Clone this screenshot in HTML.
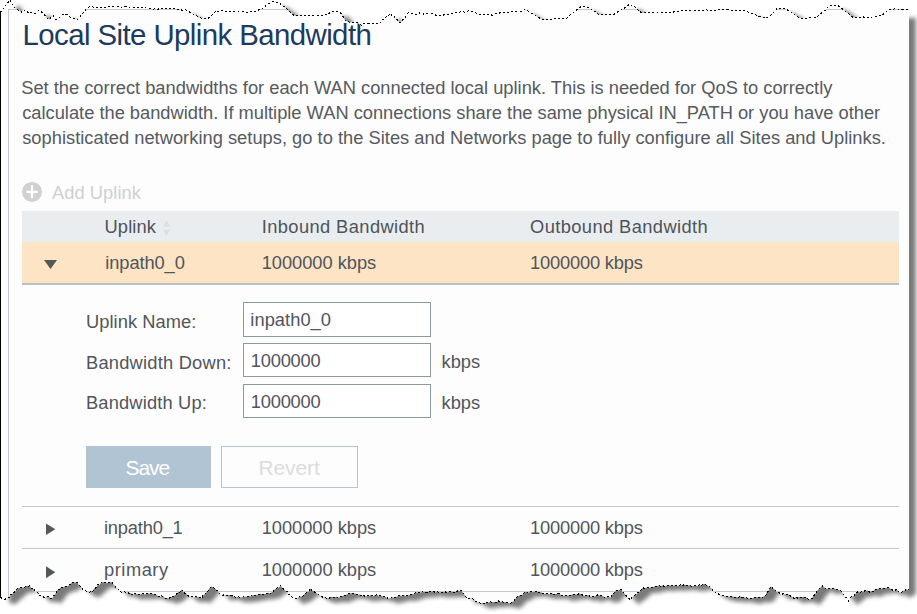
<!DOCTYPE html>
<html><head><meta charset="utf-8"><style>
html,body{margin:0;padding:0}
body{width:917px;height:614px;overflow:hidden;background:#fff;position:relative;font-family:"Liberation Sans",sans-serif}
.t{position:absolute;white-space:nowrap}
#page{position:absolute;left:0;top:0;width:917px;height:614px;background:#fdfdfd;clip-path:polygon(0px 12.7px,1.2px 11.4px,2.5px 9.6px,3.8px 8.2px,5px 6.7px,6.2px 4.4px,7.5px 2.7px,8.8px 2px,10px -0.3px,11.1px 1.6px,12.2px 4.3px,13.4px 5.6px,14.5px 7.9px,16.2px 8.6px,17.9px 10px,19.6px 10.6px,21.3px 12.4px,23.5px 9.8px,26.1px 10.9px,27.9px 12.5px,29.6px 11.5px,31.3px 12.6px,33.1px 12.5px,35.3px 13.6px,37.5px 11.1px,41px 10.7px,42.4px 13.1px,43.9px 14.1px,45.3px 15.8px,47px 18px,49.7px 19.5px,51.4px 17.1px,53.6px 16px,55.8px 19.6px,58px 19.1px,59.3px 18px,60.6px 16.2px,63.6px 13.9px,65.4px 14px,67.6px 15.1px,69.7px 17px,71.9px 17.4px,73.8px 18.4px,75.7px 18.7px,77.6px 19.6px,79.3px 17.5px,81.1px 15.5px,82.3px 14.1px,83.4px 12.3px,84.6px 11px,86.3px 8.9px,88px 7.9px,89.8px 6.5px,93.3px 7.1px,95.5px 7.2px,97.7px 7px,99.9px 7.7px,102.1px 7.6px,104.3px 7.4px,106.4px 6.9px,108.6px 6.9px,110.8px 6.1px,113px 6.7px,115.1px 6.5px,117.2px 6.2px,119.2px 6.1px,121.3px 7.1px,123.4px 7.4px,125.5px 6.4px,127.6px 7.4px,129.7px 7px,131.8px 6.8px,133.8px 7.1px,135.9px 7.7px,138px 7.9px,140.2px 7.1px,142.4px 8px,144.6px 7.4px,146.8px 8.4px,148.9px 8.1px,151.1px 8.9px,153.3px 9.2px,155.5px 8.8px,157.5px 9.4px,159.5px 8.6px,161.5px 8.3px,163.5px 8.9px,165.6px 8.2px,167.6px 8.4px,169.6px 8.7px,171.6px 8.9px,173.6px 8.4px,175.6px 8.3px,177.6px 9.5px,179.6px 9.1px,181.6px 10.1px,183.6px 10.2px,185.6px 9.9px,187.4px 10.9px,189.3px 11.9px,191.2px 13px,193px 13.9px,194.9px 14.9px,196.8px 16px,198.7px 17.5px,200.6px 18px,203.1px 18.2px,205.5px 18.8px,208px 18.5px,209.5px 17.1px,211.1px 16.4px,212.6px 14.3px,214.2px 12.9px,215.7px 10.7px,217.8px 11.2px,220px 11.4px,222.1px 10.7px,224.3px 11.4px,226.4px 11.5px,228.6px 10.8px,230.7px 11.5px,232.9px 11.3px,235px 11.5px,237px 11.4px,239px 12px,241px 12.3px,243px 11.7px,245px 12px,247px 12.5px,249px 12.6px,251px 11.5px,253px 11.5px,255px 11.4px,256.9px 10.5px,258.8px 9.9px,260.7px 9.2px,262.6px 8.6px,264.3px 7.2px,266px 5.2px,267.7px 3.7px,269.8px 3.3px,271.9px 1.6px,274px 1.4px,276px 2.4px,278px 2.7px,280px 3.5px,281.9px 5.7px,283.9px 6.6px,285.8px 8.1px,287.7px 9.9px,289.3px 11.6px,290.9px 12.3px,292.4px 13.9px,294px 15.3px,296.1px 15.9px,298.1px 15.4px,300.2px 15.9px,302.3px 15.1px,304.3px 15.3px,306.4px 15.7px,308.5px 16px,310.5px 15.4px,312.6px 15.2px,314.7px 15px,316.7px 15.5px,318.8px 15.1px,320.9px 15.9px,322.9px 15.9px,325px 15.1px,327.2px 13.8px,329.4px 13.1px,331.6px 11.5px,333.8px 12px,336px 11.7px,338.2px 11.8px,340.4px 12.3px,342.1px 15.4px,343.1px 16.6px,344.2px 18.5px,345.4px 20.4px,349px 22.1px,351.2px 22.2px,353.3px 22.9px,355.5px 22.1px,357.5px 22.6px,359.4px 24.4px,361.4px 25px,362.7px 24.1px,365.3px 23.4px,368px 23.5px,370.6px 23px,373.2px 23.2px,375.4px 23.8px,377.5px 23.9px,379.7px 23.7px,381px 21.2px,382.6px 19.6px,384.3px 18.4px,385px 17.1px,387.6px 16.9px,388.8px 15.4px,389.9px 12.9px,392.5px 15.9px,394px 16.4px,395.5px 18.9px,397.4px 19.6px,399.4px 22.8px,401.4px 21.9px,402.7px 19.6px,405.3px 17.2px,406.8px 14.2px,408.2px 12.8px,411.5px 13.1px,413.9px 13.8px,416.4px 14.7px,419.7px 12.9px,423.3px 14.1px,425.9px 13px,429.5px 13.6px,431.7px 13.7px,433.8px 14.1px,436px 15.2px,438.2px 15px,440.4px 15.6px,442.6px 15.3px,444.7px 14.6px,446.7px 14.5px,448.8px 14.4px,450.9px 13.1px,452.9px 13.4px,455px 13px,457.1px 12.7px,459.3px 12.5px,461.4px 11.4px,463.6px 12px,465.7px 12.1px,467.9px 10.9px,470px 11px,472px 11.7px,474px 12.6px,476px 13.1px,478px 13.8px,480px 14.8px,482px 14px,484px 14.2px,486px 14.4px,488px 14.4px,490px 14.5px,492.1px 15.2px,494.2px 14.6px,496.4px 13.3px,498.5px 13.3px,500.6px 12.7px,502.7px 12.3px,504.8px 12.2px,506.8px 12.5px,508.9px 12.4px,510.9px 12px,513px 11.7px,515px 11.8px,517.1px 11.1px,519.1px 11.3px,521.2px 11.1px,523.2px 10.3px,525.3px 9.5px,527.2px 10.6px,529px 11.7px,530.9px 13px,532.8px 14.1px,534.8px 14.9px,536.8px 16.6px,538.8px 17.7px,540.8px 18.7px,542.8px 19.8px,544.8px 19.8px,546.8px 19.8px,548.9px 19.2px,550.9px 19.3px,552.9px 18.8px,555px 18.5px,557.1px 18.8px,559.1px 19px,561.2px 18.3px,563.3px 18.7px,565.4px 18.7px,567.3px 17.7px,569.2px 16.2px,571.1px 13.9px,573px 13px,574.9px 11.6px,576.8px 9.7px,578.6px 8.7px,580.5px 7px,583px 6.9px,585.5px 5.7px,587.4px 7.1px,589.2px 8.1px,591.1px 9.1px,593px 10.3px,594.6px 11.3px,596.1px 12px,597.7px 13.9px,599.3px 14.4px,601.5px 14.6px,603.6px 15.3px,605.8px 14.5px,608px 14.5px,610.5px 14.1px,613.1px 14.7px,615.6px 13.4px,617.5px 12px,619.3px 11.7px,621.1px 9.6px,623px 9.2px,624.6px 7.8px,626.2px 6.7px,627.8px 5.6px,629.4px 3.9px,631.5px 5.4px,633.5px 5.7px,635.6px 7.8px,637.3px 9.2px,638.9px 11.1px,640.6px 12px,642.6px 12.8px,644.6px 13px,646.6px 12px,648.6px 12.3px,650.7px 12.6px,652.7px 12.9px,654.7px 12.2px,656.7px 12.1px,658.7px 12.2px,660.7px 12.6px,662.8px 12.8px,664.8px 12.4px,666.9px 12.4px,668.9px 12.5px,671px 12.4px,673.3px 12.1px,675.6px 11.3px,677.8px 11.4px,680.1px 11.6px,682.4px 10.5px,684.6px 10.9px,686.8px 10.2px,688.9px 10.8px,691.1px 10.9px,693.3px 10.8px,695.5px 10.6px,697.6px 10.6px,699.8px 10.8px,702px 11.1px,704.2px 10.1px,706.4px 9.9px,708.6px 10.6px,710.8px 10.7px,712.9px 10.2px,715.1px 10px,717.3px 10.2px,719.5px 9.5px,721.7px 9.5px,723.7px 9.5px,725.8px 10px,727.8px 9.8px,729.8px 9.8px,731.8px 10.4px,733.9px 10.8px,735.9px 10.1px,737.9px 10.6px,739.9px 10.4px,742px 11px,744px 10.7px,746.1px 11.2px,748.2px 12px,750.4px 12.6px,752.5px 14px,754.6px 14.7px,756.8px 15.3px,758.9px 16.4px,761px 17.2px,763.1px 17.6px,765.1px 16.7px,767.2px 17.5px,769.3px 16.8px,770.7px 15.4px,772.1px 13.8px,773.5px 12.7px,774.9px 11.2px,776.3px 9.4px,777.7px 7.8px,779.8px 8.2px,781.9px 8.5px,783.9px 8.1px,786px 8.7px,787.9px 10.4px,789.8px 11.2px,791.7px 12.3px,793.5px 13.3px,795.2px 15px,797px 16px,798.7px 17.4px,801px 18px,803.4px 18px,805.7px 18.6px,808px 18.3px,810.2px 17.7px,812.5px 17.9px,814.7px 17.7px,817px 17.3px,818.7px 15.1px,820.4px 14.4px,822px 12.4px,823.7px 11.1px,825.4px 10.1px,827.3px 7.7px,829.1px 6.1px,831px 5.4px,833.3px 5px,835.7px 5.2px,838px 5.7px,839.8px 7.2px,841.5px 7.8px,843.2px 9.6px,845px 11.1px,846.7px 12.4px,848.4px 13.3px,850px 15px,851.7px 16.7px,853.4px 17.3px,855.4px 17.5px,857.4px 16.9px,859.4px 17.1px,861.4px 17.6px,863.4px 16.9px,865.4px 17.9px,867.4px 17.9px,869.4px 16.6px,871.4px 17.4px,873.4px 16.4px,875.4px 16.6px,877.4px 16.3px,879.4px 15.4px,881.4px 15.6px,883.1px 14.3px,884.8px 13.2px,886.4px 11.3px,888.1px 10.6px,889.8px 9.6px,891.9px 9.2px,894px 9.1px,896.1px 8.6px,898.2px 9.1px,900.3px 8.9px,902.4px 9.4px,904.5px 9.4px,906.6px 9.3px,909px 9.2px,909px 589px,907.9px 589.8px,906.3px 589.6px,904.7px 590.6px,903px 590.9px,901.4px 592.3px,899.8px 592.7px,898.2px 591.3px,896.6px 589.1px,894.2px 590.9px,891.8px 589.7px,890.2px 588.4px,888.6px 587.7px,886.7px 588.1px,884.8px 588.1px,882.8px 588px,880.9px 588.9px,879px 588.5px,877.1px 589.2px,875.2px 589.3px,873.2px 591.3px,871.3px 590.9px,869.4px 592px,867.5px 590.6px,865.7px 590.7px,863.8px 591.2px,861.9px 591.6px,860.1px 592.5px,858.2px 591.8px,856.6px 592.3px,855px 594.4px,853.4px 596.5px,851.8px 596.5px,850.2px 597.6px,848.6px 600.7px,847.4px 598.4px,846.2px 597.4px,844.9px 596.6px,843.7px 594.8px,842.1px 592.4px,840.5px 590.7px,838.9px 590.1px,836.5px 589.7px,834.1px 588.5px,832px 588.8px,829.8px 588.6px,827.7px 588.7px,825.8px 589px,824px 587.1px,822.1px 585.7px,820.7px 587.4px,819.3px 588.4px,817.9px 590.1px,816.5px 591.4px,815.4px 594px,814.3px 595.4px,813.1px 596.3px,812px 598.5px,810.9px 599.1px,809.1px 599.8px,807.3px 598.1px,805.5px 597.6px,803.7px 596.8px,801.3px 597.5px,798.9px 596.7px,797.3px 598.2px,795.6px 597.1px,794px 598.5px,792.4px 597px,790.8px 596.1px,789.2px 594.9px,787.6px 594.1px,785.2px 594.1px,782.8px 593.9px,781.2px 594.6px,779.6px 593px,778px 592.4px,776.4px 591.4px,775px 590px,773.5px 588.5px,772.1px 587.8px,770.7px 586.4px,769.7px 588.5px,768.7px 590.7px,767.7px 591.7px,766.7px 592.6px,765.7px 595.8px,764px 596.1px,762.4px 597.7px,760.7px 597px,758.7px 597.4px,756.7px 597.3px,754.6px 597.6px,752.6px 598.3px,750.6px 599px,748.6px 598.3px,746.6px 598px,744.6px 597.4px,742.6px 597.6px,740.6px 596.5px,738.6px 597.2px,736.6px 597px,734.6px 597.4px,732.6px 596.3px,730.6px 596.8px,728.6px 596.4px,726.6px 596.5px,724.6px 595.7px,722.6px 595.2px,720.6px 595px,719.1px 594.5px,717.6px 592.7px,716px 592.9px,714.5px 591.6px,713px 591.2px,711.5px 588.2px,709.9px 586.9px,708.3px 586.3px,706.8px 585.3px,704.9px 584.1px,703px 584.2px,701.1px 585.7px,699.3px 584.7px,697.4px 586.3px,695.5px 585.7px,693.6px 585.9px,691.7px 586.5px,689.8px 585.3px,688px 585.8px,686.1px 584.9px,684.2px 584.7px,682.3px 585.7px,680.4px 584.6px,678.6px 585.7px,676.9px 585.9px,675.1px 585px,673.3px 586.1px,671.5px 585.6px,669.8px 585.4px,668px 585.3px,666.2px 586px,664.4px 586.5px,662.6px 585.6px,660.7px 586.1px,658.9px 585.6px,657.1px 586.2px,655.3px 586.1px,653.2px 587.3px,651.1px 587.2px,649px 588px,646.9px 587.4px,644.9px 588.6px,642.8px 587.7px,641.2px 589.6px,639.6px 592px,638.1px 592.6px,636.5px 594.2px,635px 594.9px,633.4px 596.4px,631.8px 597.1px,630.3px 599.7px,628.6px 598.2px,626.9px 596.7px,625.2px 594.5px,624px 592.9px,622.7px 591.7px,621.5px 589.6px,619.6px 589.7px,617.6px 591px,615.7px 590.4px,614.6px 592.2px,613.4px 593.9px,612.3px 594.4px,611.1px 597.2px,610px 597.4px,608.3px 596.7px,606.7px 597.3px,605px 597.4px,603.3px 596.4px,601.7px 595.2px,600px 595.9px,598px 594.6px,596px 595.9px,594px 596.6px,592px 596.7px,590px 596.4px,588.2px 594.9px,586.5px 595.7px,584.7px 595.7px,582.9px 595.4px,581.1px 594.1px,579.4px 593.5px,577.6px 594.6px,575.8px 594.4px,574px 593.9px,572.2px 594.6px,570.4px 595.1px,568.6px 595.5px,566.8px 595.7px,565px 595.4px,563.1px 596.1px,561.2px 595.3px,559.4px 593.8px,557.5px 593.5px,555.5px 594px,553.6px 594.3px,551.6px 593px,549.6px 594.5px,547.7px 593.6px,545.7px 593.5px,544px 594.1px,542.4px 592.8px,540.7px 592.3px,539px 592.7px,537.4px 591.5px,535.7px 591.2px,533.8px 591.7px,531.9px 591.7px,530px 591.8px,528.2px 592.7px,526.3px 591.6px,524.4px 592.9px,522.8px 594.4px,521.2px 595.4px,519.6px 595.6px,518px 596.2px,516.5px 597.2px,515px 599.6px,513.6px 601.2px,512.1px 601.9px,510.6px 603.5px,508.9px 603.3px,507.2px 602.6px,505.6px 602.3px,503.9px 602.3px,502.2px 601.6px,500.5px 602.1px,498.5px 601px,496.5px 602.2px,494.5px 602px,492.5px 602.2px,490.5px 602px,488.5px 602.5px,486.5px 602.3px,484.5px 603.8px,482.5px 602.7px,480.5px 603.2px,479px 602.2px,477.5px 602.3px,476px 601.6px,474.5px 599.5px,473px 599.1px,470.9px 597.7px,468.8px 598.8px,466.7px 598.3px,465.4px 595.7px,464.2px 594.3px,462.9px 592.9px,461.7px 590.3px,459.8px 591.1px,457.9px 590.9px,456px 591.5px,454.2px 592.5px,452.3px 591.5px,450.4px 591.8px,448.5px 591.9px,446.6px 592.8px,444.7px 591.4px,442.9px 592px,441px 592.5px,439.1px 592.5px,437.2px 591.4px,435.3px 592.5px,433.5px 591.3px,431.7px 591.2px,429.9px 591.6px,428.2px 591.6px,426.4px 592.6px,424.6px 592.2px,422.8px 591.4px,421px 592.6px,419.1px 592.9px,417.3px 592.4px,415.5px 592.6px,413.7px 594.6px,411.8px 594px,410px 594.8px,408px 595.7px,406px 596px,404px 595.6px,402px 595.9px,400px 595.4px,398px 596.1px,396px 597px,394px 597.6px,392px 597.3px,390px 598.4px,388.1px 598.3px,386.2px 597.3px,384.4px 596.6px,382.5px 596.6px,380.6px 595.5px,378.8px 596.1px,376.9px 594.8px,375px 595.1px,373px 596.2px,371px 595.1px,369px 595.9px,367px 595.9px,365px 596.4px,363.3px 595.2px,361.7px 596.3px,360px 594.6px,358.3px 594.8px,356.7px 594.3px,355px 593.4px,353.1px 593.8px,351.3px 593.3px,349.5px 593.8px,347.6px 594px,345.7px 595.1px,343.8px 595.5px,341.9px 596.2px,340px 597.3px,338.2px 597.5px,336.5px 596.6px,334.8px 597.4px,333px 597.3px,331.2px 596.9px,329.4px 598.1px,327.5px 598.1px,325.7px 598px,324.2px 596.8px,322.6px 597.2px,321.1px 596.1px,319.5px 595.4px,318px 594.2px,316.5px 592.9px,315px 592.3px,313.6px 591.1px,312.1px 590.5px,310.6px 588.4px,309.1px 590.7px,307.6px 591.9px,306px 593.1px,304.5px 594px,303px 596.1px,301.1px 596.8px,299.3px 596.5px,297.5px 598.1px,295.6px 599px,293.9px 598.6px,292.3px 597.4px,290.6px 595.6px,289.4px 594.7px,288.1px 593.4px,286.9px 591.3px,285.6px 590.9px,283.9px 589.3px,282.3px 587.7px,280.6px 585.7px,278.9px 587.4px,277.2px 587.9px,275.5px 589.1px,274.2px 589.7px,273px 591.4px,271.8px 591.9px,270.5px 593.7px,268.5px 592.8px,266.5px 593.9px,264.5px 594.1px,262.5px 594.7px,260.5px 593.6px,258.5px 594.7px,256.5px 595.3px,254.5px 595.2px,252.5px 595.2px,250.5px 596.4px,248.7px 595.9px,246.9px 596.8px,245.1px 596.7px,243.4px 596.9px,241.6px 597.2px,239.8px 597.4px,238px 596.8px,236px 597.3px,234px 596.8px,232px 595.6px,230px 594.9px,228px 595px,226.1px 595px,224.2px 594.9px,222.3px 595.2px,220.4px 594.9px,219.1px 592.5px,217.9px 590.9px,216.6px 590.1px,214.9px 588.5px,213.3px 587.4px,211.6px 586.4px,210.3px 587.4px,209.1px 588.7px,207.8px 591.1px,206.6px 592.2px,205.3px 594px,204.1px 594.6px,202.8px 595.9px,201.5px 598.4px,199.6px 597px,197.8px 597.3px,195.9px 596.5px,194px 597.5px,191.9px 596.7px,189.9px 596.7px,187.8px 595.7px,186.2px 593.4px,184.7px 593.4px,183.1px 591.5px,181.5px 589.5px,179.9px 592.3px,178.2px 592px,176.6px 593.9px,175px 595.2px,173.5px 596.7px,172px 597.1px,170.5px 597.3px,169px 598.4px,167.2px 598.1px,165.4px 598.4px,163.6px 596.2px,161.8px 595.9px,160px 596.9px,158px 595.9px,156px 594.6px,154px 594px,152px 593.8px,150px 593.7px,148.2px 593.6px,146.3px 593.9px,144.4px 594.5px,142.6px 593.3px,140.6px 594.6px,138.6px 594.2px,136.6px 593.9px,134.6px 593.7px,132.6px 595.4px,130.9px 592.9px,129.3px 593.5px,127.6px 592.5px,125.7px 592.3px,123.8px 591.1px,121.9px 592.2px,120px 591.6px,118.8px 589.8px,117.5px 588.2px,116.2px 587.7px,115px 586.1px,113.5px 584.5px,111.9px 582.2px,110.4px 582.3px,108.5px 582.2px,106.6px 583.2px,104.4px 582.2px,102.2px 582.3px,100.8px 583px,99.4px 584.9px,98px 584.6px,96.6px 587.1px,95.3px 588.2px,94px 588.2px,92.8px 591.2px,91.5px 590.8px,89.7px 592.3px,87.8px 592.2px,85.9px 590.9px,84px 590.3px,82.8px 589.6px,81.5px 587.4px,80.3px 586.2px,79px 585.5px,77.8px 582.9px,76.5px 582.7px,74.3px 582.6px,72.1px 582.6px,70.6px 583.8px,69.2px 584.9px,67.7px 586.3px,65.6px 586.1px,63.5px 587.2px,61.4px 587.3px,60.2px 588.1px,58.9px 589.8px,57.7px 589.8px,56.7px 592px,55.7px 593.1px,54.7px 595.3px,53.7px 595.4px,52.7px 597.9px,50.6px 598.1px,48.5px 596.7px,46.4px 596.7px,44.3px 597.7px,42.1px 595.9px,40px 595.9px,38.8px 594.9px,37.6px 592.1px,35.8px 591.8px,33.9px 589.1px,32.6px 589px,31.3px 588.2px,30px 585.9px,28.2px 586.1px,26.3px 586px,24.5px 587.3px,22.6px 587.7px,20.7px 587.5px,18.8px 588.3px,17.2px 588.7px,15.7px 591px,14.4px 591.8px,13.2px 593.6px,11.9px 593.9px,10.4px 594.7px,8.8px 597.8px,6.9px 598.2px,5px 599.3px,3.3px 598.6px,1.7px 598.1px,0px 597.4px)}
.abs{position:absolute}
svg{position:absolute;left:0;top:0}
</style></head><body>
<svg width="917" height="614" viewBox="0 0 917 614"><defs>
<filter id="bl" x="-5%" y="-5%" width="110%" height="110%"><feGaussianBlur stdDeviation="2.1"/></filter></defs>
<polygon points="9,17.7 10.2,16.4 11.5,14.6 12.8,13.2 14,11.7 15.2,9.4 16.5,7.7 17.8,7 19,4.7 20.1,6.6 21.2,9.3 22.4,10.6 23.5,12.9 25.2,13.6 26.9,15 28.6,15.6 30.3,17.4 32.5,14.8 35.1,15.9 36.9,17.5 38.6,16.5 40.3,17.6 42.1,17.5 44.3,18.6 46.5,16.1 50,15.7 51.4,18.1 52.9,19.1 54.3,20.8 56,23 58.7,24.5 60.4,22.1 62.6,21 64.8,24.6 67,24.1 68.3,23 69.6,21.2 72.6,18.9 74.4,19 76.6,20.1 78.7,22 80.9,22.4 82.8,23.4 84.7,23.7 86.6,24.6 88.3,22.5 90.1,20.5 91.3,19.1 92.4,17.3 93.6,16 95.3,13.9 97,12.9 98.8,11.5 102.3,12.1 104.5,12.2 106.7,12 108.9,12.7 111.1,12.6 113.3,12.4 115.4,11.9 117.6,11.9 119.8,11.1 122,11.7 124.1,11.5 126.2,11.2 128.2,11.1 130.3,12.1 132.4,12.4 134.5,11.4 136.6,12.4 138.7,12 140.8,11.8 142.8,12.1 144.9,12.7 147,12.9 149.2,12.1 151.4,13 153.6,12.4 155.8,13.4 157.9,13.1 160.1,13.9 162.3,14.2 164.5,13.8 166.5,14.4 168.5,13.6 170.5,13.3 172.5,13.9 174.6,13.2 176.6,13.4 178.6,13.7 180.6,13.9 182.6,13.4 184.6,13.3 186.6,14.5 188.6,14.1 190.6,15.1 192.6,15.2 194.6,14.9 196.4,15.9 198.3,16.9 200.2,18 202,18.9 203.9,19.9 205.8,21 207.7,22.5 209.6,23 212.1,23.2 214.5,23.8 217,23.5 218.5,22.1 220.1,21.4 221.6,19.3 223.2,17.9 224.7,15.7 226.8,16.2 229,16.4 231.1,15.7 233.3,16.4 235.4,16.5 237.6,15.8 239.7,16.5 241.9,16.3 244,16.5 246,16.4 248,17 250,17.3 252,16.7 254,17 256,17.5 258,17.6 260,16.5 262,16.5 264,16.4 265.9,15.5 267.8,14.9 269.7,14.2 271.6,13.6 273.3,12.2 275,10.2 276.7,8.7 278.8,8.3 280.9,6.6 283,6.4 285,7.4 287,7.7 289,8.5 290.9,10.7 292.9,11.6 294.8,13.1 296.7,14.9 298.3,16.6 299.9,17.3 301.4,18.9 303,20.3 305.1,20.9 307.1,20.4 309.2,20.9 311.3,20.1 313.3,20.3 315.4,20.7 317.5,21 319.5,20.4 321.6,20.2 323.7,20 325.7,20.5 327.8,20.1 329.9,20.9 331.9,20.9 334,20.1 336.2,18.8 338.4,18.1 340.6,16.5 342.8,17 345,16.7 347.2,16.8 349.4,17.3 351.1,20.4 352.1,21.6 353.2,23.5 354.4,25.4 358,27.1 360.2,27.2 362.3,27.9 364.5,27.1 366.5,27.6 368.4,29.4 370.4,30 371.7,29.1 374.3,28.4 377,28.5 379.6,28 382.2,28.2 384.4,28.8 386.5,28.9 388.7,28.7 390,26.2 391.6,24.6 393.3,23.4 394,22.1 396.6,21.9 397.8,20.4 398.9,17.9 401.5,20.9 403,21.4 404.5,23.9 406.4,24.6 408.4,27.8 410.4,26.9 411.7,24.6 414.3,22.2 415.8,19.2 417.2,17.8 420.5,18.1 422.9,18.8 425.4,19.7 428.7,17.9 432.3,19.1 434.9,18 438.5,18.6 440.7,18.7 442.8,19.1 445,20.2 447.2,20 449.4,20.6 451.6,20.3 453.7,19.6 455.7,19.5 457.8,19.4 459.9,18.1 461.9,18.4 464,18 466.1,17.7 468.3,17.5 470.4,16.4 472.6,17 474.7,17.1 476.9,15.9 479,16 481,16.7 483,17.6 485,18.1 487,18.8 489,19.8 491,19 493,19.2 495,19.4 497,19.4 499,19.5 501.1,20.2 503.2,19.6 505.4,18.3 507.5,18.3 509.6,17.7 511.7,17.3 513.8,17.2 515.8,17.5 517.9,17.4 519.9,17 522,16.7 524,16.8 526.1,16.1 528.1,16.3 530.2,16.1 532.2,15.3 534.3,14.5 536.2,15.6 538,16.7 539.9,18 541.8,19.1 543.8,19.9 545.8,21.6 547.8,22.7 549.8,23.7 551.8,24.8 553.8,24.8 555.8,24.8 557.9,24.2 559.9,24.3 561.9,23.8 564,23.5 566.1,23.8 568.1,24 570.2,23.3 572.3,23.7 574.4,23.7 576.3,22.7 578.2,21.2 580.1,18.9 582,18 583.9,16.6 585.8,14.7 587.6,13.7 589.5,12 592,11.9 594.5,10.7 596.4,12.1 598.2,13.1 600.1,14.1 602,15.3 603.6,16.3 605.1,17 606.7,18.9 608.3,19.4 610.5,19.6 612.6,20.3 614.8,19.5 617,19.5 619.5,19.1 622.1,19.7 624.6,18.4 626.5,17 628.3,16.7 630.1,14.6 632,14.2 633.6,12.8 635.2,11.7 636.8,10.6 638.4,8.9 640.5,10.4 642.5,10.7 644.6,12.8 646.3,14.2 647.9,16.1 649.6,17 651.6,17.8 653.6,18 655.6,17 657.6,17.3 659.7,17.6 661.7,17.9 663.7,17.2 665.7,17.1 667.7,17.2 669.7,17.6 671.8,17.8 673.8,17.4 675.9,17.4 677.9,17.5 680,17.4 682.3,17.1 684.6,16.3 686.8,16.4 689.1,16.6 691.4,15.5 693.6,15.9 695.8,15.2 697.9,15.8 700.1,15.9 702.3,15.8 704.5,15.6 706.6,15.6 708.8,15.8 711,16.1 713.2,15.1 715.4,14.9 717.6,15.6 719.8,15.7 721.9,15.2 724.1,15 726.3,15.2 728.5,14.5 730.7,14.5 732.7,14.5 734.8,15 736.8,14.8 738.8,14.8 740.8,15.4 742.9,15.8 744.9,15.1 746.9,15.6 748.9,15.4 751,16 753,15.7 755.1,16.2 757.2,17 759.4,17.6 761.5,19 763.6,19.7 765.8,20.3 767.9,21.4 770,22.2 772.1,22.6 774.1,21.7 776.2,22.5 778.3,21.8 779.7,20.4 781.1,18.8 782.5,17.7 783.9,16.2 785.3,14.4 786.7,12.8 788.8,13.2 790.9,13.5 792.9,13.1 795,13.7 796.9,15.4 798.8,16.2 800.7,17.3 802.5,18.3 804.2,20 806,21 807.7,22.4 810,23 812.4,23 814.7,23.6 817,23.3 819.2,22.7 821.5,22.9 823.7,22.7 826,22.3 827.7,20.1 829.4,19.4 831,17.4 832.7,16.1 834.4,15.1 836.3,12.7 838.1,11.1 840,10.4 842.3,10 844.7,10.2 847,10.7 848.8,12.2 850.5,12.8 852.2,14.6 854,16.1 855.7,17.4 857.4,18.3 859,20 860.7,21.7 862.4,22.3 864.4,22.5 866.4,21.9 868.4,22.1 870.4,22.6 872.4,21.9 874.4,22.9 876.4,22.9 878.4,21.6 888.3,24.1 890,22.8 891.7,21.7 893.3,19.8 895,19.1 896.7,18.1 898.8,17.7 900.9,17.6 903,17.1 905.1,17.6 907.2,17.4 909.3,17.9 911.4,17.9 913.5,17.8 915.9,17.7 915.9,590 915.9,594 915.9,594.8 915.3,594.6 913.7,595.6 912,595.9 910.4,597.3 908.8,597.7 907.2,596.3 905.6,594.1 903.2,595.9 900.8,594.7 899.2,593.4 897.6,592.7 895.7,593.1 893.8,593.1 891.8,593 889.9,593.9 888,593.5 886.1,594.2 884.2,594.3 882.2,596.3 880.3,595.9 878.4,597 876.5,595.6 874.7,595.7 872.8,596.2 870.9,596.6 869.1,597.5 867.2,596.8 865.6,597.3 864,599.4 862.4,601.5 860.8,601.5 859.2,602.6 857.6,605.7 856.4,603.4 855.2,602.4 853.9,601.6 852.7,599.8 851.1,597.4 849.5,595.7 847.9,595.1 845.5,594.7 843.1,593.5 841,593.8 838.8,593.6 836.7,593.7 834.8,594 833,592.1 831.1,590.7 829.7,592.4 828.3,593.4 826.9,595.1 825.5,596.4 824.4,599 823.3,600.4 822.1,601.3 821,603.5 819.9,604.1 818.1,604.8 816.3,603.1 814.5,602.6 812.7,601.8 810.3,602.5 807.9,601.7 806.3,603.2 804.6,602.1 803,603.5 801.4,602 799.8,601.1 798.2,599.9 796.6,599.1 794.2,599.1 791.8,598.9 790.2,599.6 788.6,598 787,597.4 785.4,596.4 784,595 782.5,593.5 781.1,592.8 779.7,591.4 778.7,593.5 777.7,595.7 776.7,596.7 775.7,597.6 774.7,600.8 773,601.1 771.4,602.7 769.7,602 767.7,602.4 765.7,602.3 763.6,602.6 761.6,603.3 759.6,604 757.6,603.3 755.6,603 753.6,602.4 751.6,602.6 749.6,601.5 747.6,602.2 745.6,602 743.6,602.4 741.6,601.3 739.6,601.8 737.6,601.4 735.6,601.5 733.6,600.7 731.6,600.2 729.6,600 728.1,599.5 726.6,597.7 725,597.9 723.5,596.6 722,596.2 720.5,593.2 718.9,591.9 717.3,591.3 715.8,590.3 713.9,589.1 712,589.2 710.1,590.7 708.3,589.7 706.4,591.3 704.5,590.7 702.6,590.9 700.7,591.5 698.8,590.3 697,590.8 695.1,589.9 693.2,589.7 691.3,590.7 689.4,589.6 687.6,590.7 685.9,590.9 684.1,590 682.3,591.1 680.5,590.6 678.8,590.4 677,590.3 675.2,591 673.4,591.5 671.6,590.6 669.7,591.1 667.9,590.6 666.1,591.2 664.3,591.1 662.2,592.3 660.1,592.2 658,593 655.9,592.4 653.9,593.6 651.8,592.7 650.2,594.6 648.6,597 647.1,597.6 645.5,599.2 644,599.9 642.4,601.4 640.8,602.1 639.3,604.7 637.6,603.2 635.9,601.7 634.2,599.5 633,597.9 631.7,596.7 630.5,594.6 628.6,594.7 626.6,596 624.7,595.4 623.6,597.2 622.4,598.9 621.3,599.4 620.1,602.2 619,602.4 617.3,601.7 615.7,602.3 614,602.4 612.3,601.4 610.7,600.2 609,600.9 607,599.6 605,600.9 603,601.6 601,601.7 599,601.4 597.2,599.9 595.5,600.7 593.7,600.7 591.9,600.4 590.1,599.1 588.4,598.5 586.6,599.6 584.8,599.4 583,598.9 581.2,599.6 579.4,600.1 577.6,600.5 575.8,600.7 574,600.4 572.1,601.1 570.2,600.3 568.4,598.8 566.5,598.5 564.5,599 562.6,599.3 560.6,598 558.6,599.5 556.7,598.6 554.7,598.5 553,599.1 551.4,597.8 549.7,597.3 548,597.7 546.4,596.5 544.7,596.2 542.8,596.7 540.9,596.7 539,596.8 537.2,597.7 535.3,596.6 533.4,597.9 531.8,599.4 530.2,600.4 528.6,600.6 527,601.2 525.5,602.2 524,604.6 522.6,606.2 521.1,606.9 519.6,608.5 517.9,608.3 516.2,607.6 514.6,607.3 512.9,607.3 511.2,606.6 509.5,607.1 507.5,606 505.5,607.2 503.5,607 501.5,607.2 499.5,607 497.5,607.5 495.5,607.3 493.5,608.8 491.5,607.7 489.5,608.2 488,607.2 486.5,607.3 485,606.6 483.5,604.5 482,604.1 479.9,602.7 477.8,603.8 475.7,603.3 474.4,600.7 473.2,599.3 471.9,597.9 470.7,595.3 468.8,596.1 466.9,595.9 465,596.5 463.2,597.5 461.3,596.5 459.4,596.8 457.5,596.9 455.6,597.8 453.7,596.4 451.9,597 450,597.5 448.1,597.5 446.2,596.4 444.3,597.5 442.5,596.3 440.7,596.2 438.9,596.6 437.2,596.6 435.4,597.6 433.6,597.2 431.8,596.4 430,597.6 428.1,597.9 426.3,597.4 424.5,597.6 422.7,599.6 420.8,599 419,599.8 417,600.7 415,601 413,600.6 411,600.9 409,600.4 407,601.1 405,602 403,602.6 401,602.3 399,603.4 397.1,603.3 395.2,602.3 393.4,601.6 391.5,601.6 389.6,600.5 387.8,601.1 385.9,599.8 384,600.1 382,601.2 380,600.1 378,600.9 376,600.9 374,601.4 372.3,600.2 370.7,601.3 369,599.6 367.3,599.8 365.7,599.3 364,598.4 362.1,598.8 360.3,598.3 358.5,598.8 356.6,599 354.7,600.1 352.8,600.5 350.9,601.2 349,602.3 347.2,602.5 345.5,601.6 343.8,602.4 342,602.3 340.2,601.9 338.4,603.1 336.5,603.1 334.7,603 333.2,601.8 331.6,602.2 330.1,601.1 328.5,600.4 327,599.2 325.5,597.9 324,597.3 322.6,596.1 321.1,595.5 319.6,593.4 318.1,595.7 316.6,596.9 315,598.1 313.5,599 312,601.1 310.1,601.8 308.3,601.5 306.5,603.1 304.6,604 302.9,603.6 301.3,602.4 299.6,600.6 298.4,599.7 297.1,598.4 295.9,596.3 294.6,595.9 292.9,594.3 291.3,592.7 289.6,590.7 287.9,592.4 286.2,592.9 284.5,594.1 283.2,594.7 282,596.4 280.8,596.9 279.5,598.7 277.5,597.8 275.5,598.9 273.5,599.1 271.5,599.7 269.5,598.6 267.5,599.7 265.5,600.3 263.5,600.2 261.5,600.2 259.5,601.4 257.7,600.9 255.9,601.8 254.1,601.7 252.4,601.9 250.6,602.2 248.8,602.4 247,601.8 245,602.3 243,601.8 241,600.6 239,599.9 237,600 235.1,600 233.2,599.9 231.3,600.2 229.4,599.9 228.1,597.5 226.9,595.9 225.6,595.1 223.9,593.5 222.3,592.4 220.6,591.4 219.3,592.4 218.1,593.7 216.8,596.1 215.6,597.2 214.3,599 213.1,599.6 211.8,600.9 210.5,603.4 208.6,602 206.8,602.3 204.9,601.5 203,602.5 200.9,601.7 198.9,601.7 196.8,600.7 195.2,598.4 193.7,598.4 192.1,596.5 190.5,594.5 188.9,597.3 187.2,597 185.6,598.9 184,600.2 182.5,601.7 181,602.1 179.5,602.3 178,603.4 176.2,603.1 174.4,603.4 172.6,601.2 170.8,600.9 169,601.9 167,600.9 165,599.6 163,599 161,598.8 159,598.7 157.2,598.6 155.3,598.9 153.4,599.5 151.6,598.3 149.6,599.6 147.6,599.2 145.6,598.9 143.6,598.7 141.6,600.4 139.9,597.9 138.3,598.5 136.6,597.5 134.7,597.3 132.8,596.1 130.9,597.2 129,596.6 127.8,594.8 126.5,593.2 125.2,592.7 124,591.1 122.5,589.5 120.9,587.2 119.4,587.3 117.5,587.2 115.6,588.2 113.4,587.2 111.2,587.3 109.8,588 108.4,589.9 107,589.6 105.6,592.1 104.3,593.2 103,593.2 101.8,596.2 100.5,595.8 98.7,597.3 96.8,597.2 94.9,595.9 93,595.3 91.8,594.6 90.5,592.4 89.3,591.2 88,590.5 86.8,587.9 85.5,587.7 83.3,587.6 81.1,587.6 79.6,588.8 78.2,589.9 76.7,591.3 74.6,591.1 72.5,592.2 70.4,592.3 69.2,593.1 67.9,594.8 66.7,594.8 65.7,597 64.7,598.1 63.7,600.3 62.7,600.4 61.7,602.9 59.6,603.1 57.5,601.7 55.4,601.7 53.3,602.7 51.1,600.9 49,600.9 47.8,599.9 46.6,597.1 44.8,596.8 42.9,594.1 41.6,594 40.3,593.2 39,590.9 37.2,591.1 35.3,591 33.5,592.3 31.6,592.7 29.7,592.5 27.8,593.3 26.2,593.7 24.7,596 23.4,596.8 22.2,598.6 20.9,598.9 19.4,599.7 17.8,602.8 15.9,603.2 14,604.3 12.3,603.6 10.7,603.1 9,602.4" fill="#000" fill-opacity="0.52" filter="url(#bl)"/>
</svg>
<div id="page">
<div class="abs" style="left:8px;top:9px;width:1px;height:600px;background:#c3c8ce"></div>
<div class="abs" style="left:8px;top:9px;width:909px;height:1px;background:#c3c8ce"></div>
<div class="t" style="left:22.5px;top:19.81px;font-size:29.4px;line-height:29.4px;color:#203a5c;letter-spacing:-0.577px;">Local Site Uplink Bandwidth</div>
<div class="t" style="left:21.2px;top:79.01px;font-size:18.3px;line-height:18.3px;color:#565a60;letter-spacing:0.003px;">Set the correct bandwidths for each WAN connected local uplink. This is needed for QoS to correctly</div>
<div class="t" style="left:22.2px;top:104.01px;font-size:18.3px;line-height:18.3px;color:#565a60;letter-spacing:-0.003px;">calculate the bandwidth. If multiple WAN connections share the same physical IN_PATH or you have other</div>
<div class="t" style="left:22.2px;top:129.01px;font-size:18.3px;line-height:18.3px;color:#565a60;letter-spacing:0.019px;">sophisticated networking setups, go to the Sites and Networks page to fully configure all Sites and Uplinks.</div>
<svg width="917" height="614"><circle cx="32" cy="191.9" r="10" fill="#d0d0d0"/><rect x="26.5" y="190.7" width="11.2" height="2.4" fill="#fff"/><rect x="30.8" y="185.3" width="2.4" height="13" fill="#fff"/></svg>
<div class="t" style="left:52.0px;top:184.21px;font-size:18.3px;line-height:18.3px;color:#cdd0d3;letter-spacing:0.056px;">Add Uplink</div>
<div class="abs" style="left:22px;top:211px;width:877px;height:31px;background:#e9edf0"></div>
<div class="t" style="left:104.5px;top:218.01px;font-size:18.3px;line-height:18.3px;color:#4f535a;letter-spacing:0.140px;">Uplink</div>
<svg width="917" height="614"><polygon points="162.8,226.8 170.2,226.8 166.5,220.6" fill="#dcdfe2"/><polygon points="162.8,229.8 170.2,229.8 166.5,236" fill="#dcdfe2"/></svg>
<div class="t" style="left:261.7px;top:218.01px;font-size:18.3px;line-height:18.3px;color:#4f535a;letter-spacing:0.409px;">Inbound Bandwidth</div>
<div class="t" style="left:530.0px;top:218.01px;font-size:18.3px;line-height:18.3px;color:#4f535a;letter-spacing:0.412px;">Outbound Bandwidth</div>
<div class="abs" style="left:22px;top:242px;width:877px;height:41px;background:#fce4c4"></div>
<div class="abs" style="left:22px;top:283px;width:877px;height:2px;background:#b9bfc6"></div>
<svg width="917" height="614"><polygon points="44,260 57,260 50.5,269" fill="#525958"/></svg>
<div class="t" style="left:105.3px;top:254.31px;font-size:18.3px;line-height:18.3px;color:#51555c;letter-spacing:-0.100px;">inpath0_0</div>
<div class="t" style="left:261.7px;top:254.31px;font-size:18.3px;line-height:18.3px;color:#51555c;letter-spacing:-0.030px;">1000000 kbps</div>
<div class="t" style="left:530.0px;top:254.31px;font-size:18.3px;line-height:18.3px;color:#51555c;letter-spacing:-0.182px;">1000000 kbps</div>
<div class="t" style="left:86.0px;top:313.31px;font-size:18.3px;line-height:18.3px;color:#51555c;letter-spacing:0.051px;">Uplink Name:</div>
<div class="t" style="left:86.0px;top:353.51px;font-size:18.3px;line-height:18.3px;color:#51555c;letter-spacing:0.222px;">Bandwidth Down:</div>
<div class="t" style="left:86.0px;top:394.21px;font-size:18.3px;line-height:18.3px;color:#51555c;letter-spacing:0.167px;">Bandwidth Up:</div>
<div class="abs" style="left:243px;top:302px;width:186px;height:33px;border:1px solid #8d9a9b;background:#fff"></div>
<div class="t" style="left:250.3px;top:311.21px;font-size:18.3px;line-height:18.3px;color:#51555c;letter-spacing:0.050px;">inpath0_0</div>
<div class="abs" style="left:243px;top:343px;width:186px;height:32px;border:1px solid #8d9a9b;background:#fff"></div>
<div class="t" style="left:250.8px;top:351.91px;font-size:18.3px;line-height:18.3px;color:#51555c;letter-spacing:-0.217px;">1000000</div>
<div class="abs" style="left:243px;top:384px;width:186px;height:32px;border:1px solid #8d9a9b;background:#fff"></div>
<div class="t" style="left:250.8px;top:392.71px;font-size:18.3px;line-height:18.3px;color:#51555c;letter-spacing:-0.217px;">1000000</div>
<div class="t" style="left:441.5px;top:352.81px;font-size:18.3px;line-height:18.3px;color:#51555c;">kbps</div>
<div class="t" style="left:441.5px;top:393.91px;font-size:18.3px;line-height:18.3px;color:#51555c;">kbps</div>
<div class="abs" style="left:86px;top:446px;width:125px;height:42px;background:#b1c4d4"></div>
<div class="t" style="left:125.6px;top:456.92px;font-size:21px;line-height:21px;color:#fff;letter-spacing:-1.134px;">Save</div>
<div class="abs" style="left:221px;top:446px;width:135px;height:40px;border:1px solid #b3c6d7"></div>
<div class="t" style="left:258.4px;top:456.92px;font-size:21px;line-height:21px;color:#dcdcdc;letter-spacing:-0.100px;">Revert</div>
<div class="abs" style="left:22px;top:506px;width:877px;height:1px;background:#c3c8ce"></div>
<div class="abs" style="left:22px;top:548px;width:877px;height:1px;background:#c3c8ce"></div>
<div class="abs" style="left:22px;top:591px;width:877px;height:1px;background:#c3c8ce"></div>
<svg width="917" height="614"><polygon points="46,523.5 55.3,529.3 46,535" fill="#525958"/><polygon points="46,566.2 55.3,572.2 46,578.2" fill="#525958"/></svg>
<div class="t" style="left:104.0px;top:519.21px;font-size:18.3px;line-height:18.3px;color:#51555c;letter-spacing:-0.192px;">inpath0_1</div>
<div class="t" style="left:261.7px;top:519.21px;font-size:18.3px;line-height:18.3px;color:#51555c;letter-spacing:-0.030px;">1000000 kbps</div>
<div class="t" style="left:530.0px;top:519.21px;font-size:18.3px;line-height:18.3px;color:#51555c;letter-spacing:-0.182px;">1000000 kbps</div>
<div class="t" style="left:104.0px;top:561.01px;font-size:18.3px;line-height:18.3px;color:#51555c;letter-spacing:0.532px;">primary</div>
<div class="t" style="left:261.7px;top:561.01px;font-size:18.3px;line-height:18.3px;color:#51555c;letter-spacing:-0.030px;">1000000 kbps</div>
<div class="t" style="left:530.0px;top:561.01px;font-size:18.3px;line-height:18.3px;color:#51555c;letter-spacing:-0.182px;">1000000 kbps</div>
</div>
<svg width="917" height="614"><polyline points="0,12.7 1.2,11.4 2.5,9.6 3.8,8.2 5,6.7 6.2,4.4 7.5,2.7 8.8,2 10,-0.3 11.1,1.6 12.2,4.3 13.4,5.6 14.5,7.9 16.2,8.6 17.9,10 19.6,10.6 21.3,12.4 23.5,9.8 26.1,10.9 27.9,12.5 29.6,11.5 31.3,12.6 33.1,12.5 35.3,13.6 37.5,11.1 41,10.7 42.4,13.1 43.9,14.1 45.3,15.8 47,18 49.7,19.5 51.4,17.1 53.6,16 55.8,19.6 58,19.1 59.3,18 60.6,16.2 63.6,13.9 65.4,14 67.6,15.1 69.7,17 71.9,17.4 73.8,18.4 75.7,18.7 77.6,19.6 79.3,17.5 81.1,15.5 82.3,14.1 83.4,12.3 84.6,11 86.3,8.9 88,7.9 89.8,6.5 93.3,7.1 95.5,7.2 97.7,7 99.9,7.7 102.1,7.6 104.3,7.4 106.4,6.9 108.6,6.9 110.8,6.1 113,6.7 115.1,6.5 117.2,6.2 119.2,6.1 121.3,7.1 123.4,7.4 125.5,6.4 127.6,7.4 129.7,7 131.8,6.8 133.8,7.1 135.9,7.7 138,7.9 140.2,7.1 142.4,8 144.6,7.4 146.8,8.4 148.9,8.1 151.1,8.9 153.3,9.2 155.5,8.8 157.5,9.4 159.5,8.6 161.5,8.3 163.5,8.9 165.6,8.2 167.6,8.4 169.6,8.7 171.6,8.9 173.6,8.4 175.6,8.3 177.6,9.5 179.6,9.1 181.6,10.1 183.6,10.2 185.6,9.9 187.4,10.9 189.3,11.9 191.2,13 193,13.9 194.9,14.9 196.8,16 198.7,17.5 200.6,18 203.1,18.2 205.5,18.8 208,18.5 209.5,17.1 211.1,16.4 212.6,14.3 214.2,12.9 215.7,10.7 217.8,11.2 220,11.4 222.1,10.7 224.3,11.4 226.4,11.5 228.6,10.8 230.7,11.5 232.9,11.3 235,11.5 237,11.4 239,12 241,12.3 243,11.7 245,12 247,12.5 249,12.6 251,11.5 253,11.5 255,11.4 256.9,10.5 258.8,9.9 260.7,9.2 262.6,8.6 264.3,7.2 266,5.2 267.7,3.7 269.8,3.3 271.9,1.6 274,1.4 276,2.4 278,2.7 280,3.5 281.9,5.7 283.9,6.6 285.8,8.1 287.7,9.9 289.3,11.6 290.9,12.3 292.4,13.9 294,15.3 296.1,15.9 298.1,15.4 300.2,15.9 302.3,15.1 304.3,15.3 306.4,15.7 308.5,16 310.5,15.4 312.6,15.2 314.7,15 316.7,15.5 318.8,15.1 320.9,15.9 322.9,15.9 325,15.1 327.2,13.8 329.4,13.1 331.6,11.5 333.8,12 336,11.7 338.2,11.8 340.4,12.3 342.1,15.4 343.1,16.6 344.2,18.5 345.4,20.4 349,22.1 351.2,22.2 353.3,22.9 355.5,22.1 357.5,22.6 359.4,24.4 361.4,25 362.7,24.1 365.3,23.4 368,23.5 370.6,23 373.2,23.2 375.4,23.8 377.5,23.9 379.7,23.7 381,21.2 382.6,19.6 384.3,18.4 385,17.1 387.6,16.9 388.8,15.4 389.9,12.9 392.5,15.9 394,16.4 395.5,18.9 397.4,19.6 399.4,22.8 401.4,21.9 402.7,19.6 405.3,17.2 406.8,14.2 408.2,12.8 411.5,13.1 413.9,13.8 416.4,14.7 419.7,12.9 423.3,14.1 425.9,13 429.5,13.6 431.7,13.7 433.8,14.1 436,15.2 438.2,15 440.4,15.6 442.6,15.3 444.7,14.6 446.7,14.5 448.8,14.4 450.9,13.1 452.9,13.4 455,13 457.1,12.7 459.3,12.5 461.4,11.4 463.6,12 465.7,12.1 467.9,10.9 470,11 472,11.7 474,12.6 476,13.1 478,13.8 480,14.8 482,14 484,14.2 486,14.4 488,14.4 490,14.5 492.1,15.2 494.2,14.6 496.4,13.3 498.5,13.3 500.6,12.7 502.7,12.3 504.8,12.2 506.8,12.5 508.9,12.4 510.9,12 513,11.7 515,11.8 517.1,11.1 519.1,11.3 521.2,11.1 523.2,10.3 525.3,9.5 527.2,10.6 529,11.7 530.9,13 532.8,14.1 534.8,14.9 536.8,16.6 538.8,17.7 540.8,18.7 542.8,19.8 544.8,19.8 546.8,19.8 548.9,19.2 550.9,19.3 552.9,18.8 555,18.5 557.1,18.8 559.1,19 561.2,18.3 563.3,18.7 565.4,18.7 567.3,17.7 569.2,16.2 571.1,13.9 573,13 574.9,11.6 576.8,9.7 578.6,8.7 580.5,7 583,6.9 585.5,5.7 587.4,7.1 589.2,8.1 591.1,9.1 593,10.3 594.6,11.3 596.1,12 597.7,13.9 599.3,14.4 601.5,14.6 603.6,15.3 605.8,14.5 608,14.5 610.5,14.1 613.1,14.7 615.6,13.4 617.5,12 619.3,11.7 621.1,9.6 623,9.2 624.6,7.8 626.2,6.7 627.8,5.6 629.4,3.9 631.5,5.4 633.5,5.7 635.6,7.8 637.3,9.2 638.9,11.1 640.6,12 642.6,12.8 644.6,13 646.6,12 648.6,12.3 650.7,12.6 652.7,12.9 654.7,12.2 656.7,12.1 658.7,12.2 660.7,12.6 662.8,12.8 664.8,12.4 666.9,12.4 668.9,12.5 671,12.4 673.3,12.1 675.6,11.3 677.8,11.4 680.1,11.6 682.4,10.5 684.6,10.9 686.8,10.2 688.9,10.8 691.1,10.9 693.3,10.8 695.5,10.6 697.6,10.6 699.8,10.8 702,11.1 704.2,10.1 706.4,9.9 708.6,10.6 710.8,10.7 712.9,10.2 715.1,10 717.3,10.2 719.5,9.5 721.7,9.5 723.7,9.5 725.8,10 727.8,9.8 729.8,9.8 731.8,10.4 733.9,10.8 735.9,10.1 737.9,10.6 739.9,10.4 742,11 744,10.7 746.1,11.2 748.2,12 750.4,12.6 752.5,14 754.6,14.7 756.8,15.3 758.9,16.4 761,17.2 763.1,17.6 765.1,16.7 767.2,17.5 769.3,16.8 770.7,15.4 772.1,13.8 773.5,12.7 774.9,11.2 776.3,9.4 777.7,7.8 779.8,8.2 781.9,8.5 783.9,8.1 786,8.7 787.9,10.4 789.8,11.2 791.7,12.3 793.5,13.3 795.2,15 797,16 798.7,17.4 801,18 803.4,18 805.7,18.6 808,18.3 810.2,17.7 812.5,17.9 814.7,17.7 817,17.3 818.7,15.1 820.4,14.4 822,12.4 823.7,11.1 825.4,10.1 827.3,7.7 829.1,6.1 831,5.4 833.3,5 835.7,5.2 838,5.7 839.8,7.2 841.5,7.8 843.2,9.6 845,11.1 846.7,12.4 848.4,13.3 850,15 851.7,16.7 853.4,17.3 855.4,17.5 857.4,16.9 859.4,17.1 861.4,17.6 863.4,16.9 865.4,17.9 867.4,17.9 869.4,16.6 871.4,17.4 873.4,16.4 875.4,16.6 877.4,16.3 879.4,15.4 881.4,15.6 883.1,14.3 884.8,13.2 886.4,11.3 888.1,10.6 889.8,9.6 891.9,9.2 894,9.1 896.1,8.6 898.2,9.1 900.3,8.9 902.4,9.4 904.5,9.4 906.6,9.3 909,9.2" fill="none" stroke="#000" stroke-width="1" stroke-dasharray="2 2.2" shape-rendering="crispEdges"/>
<polyline points="0,597.4 1.7,598.1 3.3,598.6 5,599.3 6.9,598.2 8.8,597.8 10.4,594.7 11.9,593.9 13.2,593.6 14.4,591.8 15.7,591 17.2,588.7 18.8,588.3 20.7,587.5 22.6,587.7 24.5,587.3 26.3,586 28.2,586.1 30,585.9 31.3,588.2 32.6,589 33.9,589.1 35.8,591.8 37.6,592.1 38.8,594.9 40,595.9 42.1,595.9 44.3,597.7 46.4,596.7 48.5,596.7 50.6,598.1 52.7,597.9 53.7,595.4 54.7,595.3 55.7,593.1 56.7,592 57.7,589.8 58.9,589.8 60.2,588.1 61.4,587.3 63.5,587.2 65.6,586.1 67.7,586.3 69.2,584.9 70.6,583.8 72.1,582.6 74.3,582.6 76.5,582.7 77.8,582.9 79,585.5 80.3,586.2 81.5,587.4 82.8,589.6 84,590.3 85.9,590.9 87.8,592.2 89.7,592.3 91.5,590.8 92.8,591.2 94,588.2 95.3,588.2 96.6,587.1 98,584.6 99.4,584.9 100.8,583 102.2,582.3 104.4,582.2 106.6,583.2 108.5,582.2 110.4,582.3 111.9,582.2 113.5,584.5 115,586.1 116.2,587.7 117.5,588.2 118.8,589.8 120,591.6 121.9,592.2 123.8,591.1 125.7,592.3 127.6,592.5 129.3,593.5 130.9,592.9 132.6,595.4 134.6,593.7 136.6,593.9 138.6,594.2 140.6,594.6 142.6,593.3 144.4,594.5 146.3,593.9 148.2,593.6 150,593.7 152,593.8 154,594 156,594.6 158,595.9 160,596.9 161.8,595.9 163.6,596.2 165.4,598.4 167.2,598.1 169,598.4 170.5,597.3 172,597.1 173.5,596.7 175,595.2 176.6,593.9 178.2,592 179.9,592.3 181.5,589.5 183.1,591.5 184.7,593.4 186.2,593.4 187.8,595.7 189.9,596.7 191.9,596.7 194,597.5 195.9,596.5 197.8,597.3 199.6,597 201.5,598.4 202.8,595.9 204.1,594.6 205.3,594 206.6,592.2 207.8,591.1 209.1,588.7 210.3,587.4 211.6,586.4 213.3,587.4 214.9,588.5 216.6,590.1 217.9,590.9 219.1,592.5 220.4,594.9 222.3,595.2 224.2,594.9 226.1,595 228,595 230,594.9 232,595.6 234,596.8 236,597.3 238,596.8 239.8,597.4 241.6,597.2 243.4,596.9 245.1,596.7 246.9,596.8 248.7,595.9 250.5,596.4 252.5,595.2 254.5,595.2 256.5,595.3 258.5,594.7 260.5,593.6 262.5,594.7 264.5,594.1 266.5,593.9 268.5,592.8 270.5,593.7 271.8,591.9 273,591.4 274.2,589.7 275.5,589.1 277.2,587.9 278.9,587.4 280.6,585.7 282.3,587.7 283.9,589.3 285.6,590.9 286.9,591.3 288.1,593.4 289.4,594.7 290.6,595.6 292.3,597.4 293.9,598.6 295.6,599 297.5,598.1 299.3,596.5 301.1,596.8 303,596.1 304.5,594 306,593.1 307.6,591.9 309.1,590.7 310.6,588.4 312.1,590.5 313.6,591.1 315,592.3 316.5,592.9 318,594.2 319.5,595.4 321.1,596.1 322.6,597.2 324.2,596.8 325.7,598 327.5,598.1 329.4,598.1 331.2,596.9 333,597.3 334.8,597.4 336.5,596.6 338.2,597.5 340,597.3 341.9,596.2 343.8,595.5 345.7,595.1 347.6,594 349.5,593.8 351.3,593.3 353.1,593.8 355,593.4 356.7,594.3 358.3,594.8 360,594.6 361.7,596.3 363.3,595.2 365,596.4 367,595.9 369,595.9 371,595.1 373,596.2 375,595.1 376.9,594.8 378.8,596.1 380.6,595.5 382.5,596.6 384.4,596.6 386.2,597.3 388.1,598.3 390,598.4 392,597.3 394,597.6 396,597 398,596.1 400,595.4 402,595.9 404,595.6 406,596 408,595.7 410,594.8 411.8,594 413.7,594.6 415.5,592.6 417.3,592.4 419.1,592.9 421,592.6 422.8,591.4 424.6,592.2 426.4,592.6 428.2,591.6 429.9,591.6 431.7,591.2 433.5,591.3 435.3,592.5 437.2,591.4 439.1,592.5 441,592.5 442.9,592 444.7,591.4 446.6,592.8 448.5,591.9 450.4,591.8 452.3,591.5 454.2,592.5 456,591.5 457.9,590.9 459.8,591.1 461.7,590.3 462.9,592.9 464.2,594.3 465.4,595.7 466.7,598.3 468.8,598.8 470.9,597.7 473,599.1 474.5,599.5 476,601.6 477.5,602.3 479,602.2 480.5,603.2 482.5,602.7 484.5,603.8 486.5,602.3 488.5,602.5 490.5,602 492.5,602.2 494.5,602 496.5,602.2 498.5,601 500.5,602.1 502.2,601.6 503.9,602.3 505.6,602.3 507.2,602.6 508.9,603.3 510.6,603.5 512.1,601.9 513.6,601.2 515,599.6 516.5,597.2 518,596.2 519.6,595.6 521.2,595.4 522.8,594.4 524.4,592.9 526.3,591.6 528.2,592.7 530,591.8 531.9,591.7 533.8,591.7 535.7,591.2 537.4,591.5 539,592.7 540.7,592.3 542.4,592.8 544,594.1 545.7,593.5 547.7,593.6 549.6,594.5 551.6,593 553.6,594.3 555.5,594 557.5,593.5 559.4,593.8 561.2,595.3 563.1,596.1 565,595.4 566.8,595.7 568.6,595.5 570.4,595.1 572.2,594.6 574,593.9 575.8,594.4 577.6,594.6 579.4,593.5 581.1,594.1 582.9,595.4 584.7,595.7 586.5,595.7 588.2,594.9 590,596.4 592,596.7 594,596.6 596,595.9 598,594.6 600,595.9 601.7,595.2 603.3,596.4 605,597.4 606.7,597.3 608.3,596.7 610,597.4 611.1,597.2 612.3,594.4 613.4,593.9 614.6,592.2 615.7,590.4 617.6,591 619.6,589.7 621.5,589.6 622.7,591.7 624,592.9 625.2,594.5 626.9,596.7 628.6,598.2 630.3,599.7 631.8,597.1 633.4,596.4 635,594.9 636.5,594.2 638.1,592.6 639.6,592 641.2,589.6 642.8,587.7 644.9,588.6 646.9,587.4 649,588 651.1,587.2 653.2,587.3 655.3,586.1 657.1,586.2 658.9,585.6 660.7,586.1 662.6,585.6 664.4,586.5 666.2,586 668,585.3 669.8,585.4 671.5,585.6 673.3,586.1 675.1,585 676.9,585.9 678.6,585.7 680.4,584.6 682.3,585.7 684.2,584.7 686.1,584.9 688,585.8 689.8,585.3 691.7,586.5 693.6,585.9 695.5,585.7 697.4,586.3 699.3,584.7 701.1,585.7 703,584.2 704.9,584.1 706.8,585.3 708.3,586.3 709.9,586.9 711.5,588.2 713,591.2 714.5,591.6 716,592.9 717.6,592.7 719.1,594.5 720.6,595 722.6,595.2 724.6,595.7 726.6,596.5 728.6,596.4 730.6,596.8 732.6,596.3 734.6,597.4 736.6,597 738.6,597.2 740.6,596.5 742.6,597.6 744.6,597.4 746.6,598 748.6,598.3 750.6,599 752.6,598.3 754.6,597.6 756.7,597.3 758.7,597.4 760.7,597 762.4,597.7 764,596.1 765.7,595.8 766.7,592.6 767.7,591.7 768.7,590.7 769.7,588.5 770.7,586.4 772.1,587.8 773.5,588.5 775,590 776.4,591.4 778,592.4 779.6,593 781.2,594.6 782.8,593.9 785.2,594.1 787.6,594.1 789.2,594.9 790.8,596.1 792.4,597 794,598.5 795.6,597.1 797.3,598.2 798.9,596.7 801.3,597.5 803.7,596.8 805.5,597.6 807.3,598.1 809.1,599.8 810.9,599.1 812,598.5 813.1,596.3 814.3,595.4 815.4,594 816.5,591.4 817.9,590.1 819.3,588.4 820.7,587.4 822.1,585.7 824,587.1 825.8,589 827.7,588.7 829.8,588.6 832,588.8 834.1,588.5 836.5,589.7 838.9,590.1 840.5,590.7 842.1,592.4 843.7,594.8 844.9,596.6 846.2,597.4 847.4,598.4 848.6,600.7 850.2,597.6 851.8,596.5 853.4,596.5 855,594.4 856.6,592.3 858.2,591.8 860.1,592.5 861.9,591.6 863.8,591.2 865.7,590.7 867.5,590.6 869.4,592 871.3,590.9 873.2,591.3 875.2,589.3 877.1,589.2 879,588.5 880.9,588.9 882.8,588 884.8,588.1 886.7,588.1 888.6,587.7 890.2,588.4 891.8,589.7 894.2,590.9 896.6,589.1 898.2,591.3 899.8,592.7 901.4,592.3 903,590.9 904.7,590.6 906.3,589.6 907.9,589.8 909,589" fill="none" stroke="#000" stroke-width="1" stroke-dasharray="2 2.2" shape-rendering="crispEdges"/>
<rect x="0" y="13" width="1" height="584.5" fill="#000"/></svg>
</body></html>
